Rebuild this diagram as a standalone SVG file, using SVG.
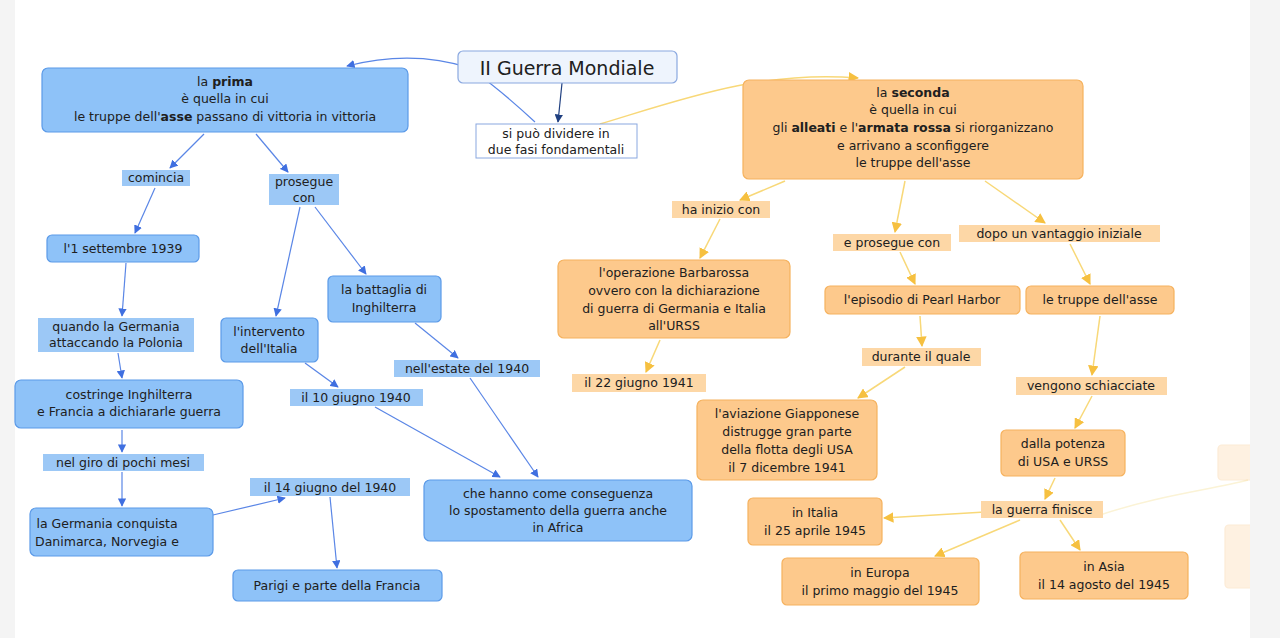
<svg xmlns="http://www.w3.org/2000/svg" width="1280" height="638" viewBox="0 0 1280 638">
<defs>
<marker id="ab" viewBox="0 0 10 10" refX="9" refY="5" markerWidth="7" markerHeight="7" orient="auto"><path d="M0,0 L10,5 L0,10 z" fill="#3f6fe0"/></marker>
<marker id="ad" viewBox="0 0 10 10" refX="9" refY="5" markerWidth="7" markerHeight="7" orient="auto"><path d="M0,0 L10,5 L0,10 z" fill="#1f3f80"/></marker>
<marker id="ao" viewBox="0 0 10 10" refX="9" refY="5" markerWidth="7" markerHeight="7" orient="auto"><path d="M0,0 L10,5 L0,10 z" fill="#f6c040"/></marker>
<style>
text{font-family:"DejaVu Sans","Liberation Sans",sans-serif;font-size:12.5px;fill:#202020;text-anchor:middle}
.bn{fill:#8ec2f8;stroke:#5b9ae8;stroke-width:1.2}
.bl{fill:#9cc8f6;stroke:none}
.on{fill:#fdc98c;stroke:#f6b25e;stroke-width:1.2}
.ol{fill:#fdd7a6;stroke:none}
.cb{fill:none;stroke:#5a86e6;stroke-width:1.2;marker-end:url(#ab)}
.co{fill:none;stroke:#f8d878;stroke-width:1.5;marker-end:url(#ao)}
</style>
</defs>
<rect width="1280" height="638" fill="#f4f4f4"/>
<rect x="15" y="0" width="1235" height="638" fill="#ffffff"/>
<g id="connectors">
<path class="cb" d="M470,68 C430,55 390,55 347,66"/>
<path d="M562,83 L558,122" fill="none" stroke="#1f3f80" stroke-width="1.2" marker-end="url(#ad)"/>
<path d="M475,72 C500,90 520,108 535,122" fill="none" stroke="#5a86e6" stroke-width="1.2"/>
<path class="co" d="M600,124 C680,100 760,70 858,78"/>
<path class="cb" d="M204,134 L170,168"/>
<path class="cb" d="M256,134 L288,172"/>
<path class="cb" d="M155,188 L135,233"/>
<path class="cb" d="M126,263 L122,316"/>
<path class="cb" d="M118,353 L122,378"/>
<path class="cb" d="M122,430 L122,452"/>
<path class="cb" d="M122,472 L122,506"/>
<path class="cb" d="M213,515 L285,498"/>
<path class="cb" d="M330,497 L337,568"/>
<path class="cb" d="M300,207 L276,316"/>
<path class="cb" d="M315,207 L366,274"/>
<path class="cb" d="M305,363 L338,387"/>
<path class="cb" d="M415,323 L458,358"/>
<path class="cb" d="M375,407 L500,477"/>
<path class="cb" d="M470,378 L538,477"/>
<path class="co" d="M785,181 L740,200"/>
<path class="co" d="M720,219 L700,258"/>
<path class="co" d="M905,181 L895,232"/>
<path class="co" d="M985,181 L1045,223"/>
<path class="co" d="M660,340 L646,372"/>
<path class="co" d="M900,252 L915,284"/>
<path class="co" d="M920,316 L922,346"/>
<path class="co" d="M905,367 L858,398"/>
<path class="co" d="M1070,244 L1090,284"/>
<path class="co" d="M1100,316 L1092,375"/>
<path class="co" d="M1092,396 L1075,428"/>
<path class="co" d="M1055,478 L1045,499"/>
<path class="co" d="M985,512 L884,518"/>
<path class="co" d="M1020,520 L935,556"/>
<path class="co" d="M1060,520 L1080,550"/>
<path d="M1100,515 C1160,495 1210,490 1248,480" fill="none" stroke="#fbf3d6" stroke-width="1.5"/>
</g>
<g id="n-title"><rect x="458" y="51" width="219" height="32" rx="5" fill="#eef4fd" stroke="#8aa8e0" stroke-width="1.2"/><text x="567" y="75" style="font-size:19px">II Guerra Mondiale</text></g>
<g id="n-divide"><rect x="476" y="124" width="161" height="34" fill="#ffffff" stroke="#8aa8e0"/><text x="556" y="138">si può dividere in</text><text x="556" y="154">due fasi fondamentali</text></g>
<g id="n-prima"><rect class="bn" x="42" y="68" width="366" height="64" rx="6"/><text x="225" y="86">la <tspan font-weight="bold">prima</tspan></text><text x="225" y="103">è quella in cui</text><text x="225" y="121">le truppe dell'<tspan font-weight="bold">asse</tspan> passano di vittoria in vittoria</text></g>
<g id="l-comincia"><rect class="bl" x="122" y="170" width="68" height="16"/><text x="156" y="182">comincia</text></g>
<g id="l-prosegue"><rect class="bl" x="269" y="174" width="70" height="31"/><text x="304" y="186">prosegue</text><text x="304" y="202">con</text></g>
<g id="n-1sett"><rect class="bn" x="47" y="235" width="152" height="27" rx="5"/><text x="123" y="253">l'1 settembre 1939</text></g>
<g id="l-quando"><rect class="bl" x="38" y="318" width="156" height="34"/><text x="116" y="331">quando la Germania</text><text x="116" y="347">attaccando la Polonia</text></g>
<g id="n-costringe"><rect class="bn" x="15" y="380" width="228" height="48" rx="6"/><text x="129" y="399">costringe Inghilterra</text><text x="129" y="416">e Francia a dichiararle guerra</text></g>
<g id="l-giro"><rect class="bl" x="43" y="454" width="161" height="17"/><text x="123" y="467">nel giro di pochi mesi</text></g>
<g id="n-conquista"><rect class="bn" x="30" y="508" width="183" height="48" rx="6"/><text x="107" y="528">la Germania conquista</text><text x="107" y="546">Danimarca, Norvegia e</text></g>
<g id="l-14giugno"><rect class="bl" x="250" y="478" width="160" height="18"/><text x="330" y="492">il 14 giugno del 1940</text></g>
<g id="n-parigi"><rect class="bn" x="233" y="570" width="209" height="31" rx="5" stroke="#3a5a9a"/><text x="337" y="590">Parigi e parte della Francia</text></g>
<g id="n-intervento"><rect class="bn" x="221" y="318" width="97" height="44" rx="5"/><text x="269" y="336">l'intervento</text><text x="269" y="353">dell'Italia</text></g>
<g id="n-battaglia"><rect class="bn" x="328" y="276" width="113" height="46" rx="5"/><text x="384" y="294">la battaglia di</text><text x="384" y="312">Inghilterra</text></g>
<g id="l-estate"><rect class="bl" x="394" y="360" width="146" height="17"/><text x="467" y="373">nell'estate del 1940</text></g>
<g id="l-10giugno"><rect class="bl" x="290" y="389" width="133" height="17"/><text x="356" y="402">il 10 giugno 1940</text></g>
<g id="n-conseguenza"><rect class="bn" x="424" y="480" width="268" height="61" rx="6"/><text x="558" y="498">che hanno come conseguenza</text><text x="558" y="515">lo spostamento della guerra anche</text><text x="558" y="532">in Africa</text></g>
<g id="n-seconda"><rect class="on" x="743" y="80" width="340" height="99" rx="6"/><text x="913" y="97">la <tspan font-weight="bold">seconda</tspan></text><text x="913" y="114">è quella in cui</text><text x="913" y="132">gli <tspan font-weight="bold">alleati</tspan> e l'<tspan font-weight="bold">armata rossa</tspan> si riorganizzano</text><text x="913" y="150">e arrivano a sconfiggere</text><text x="913" y="167">le truppe dell'asse</text></g>
<g id="l-inizio"><rect class="ol" x="672" y="201" width="98" height="17"/><text x="721" y="214">ha inizio con</text></g>
<g id="l-prosegue2"><rect class="ol" x="833" y="234" width="118" height="17"/><text x="892" y="247">e prosegue con</text></g>
<g id="l-vantaggio"><rect class="ol" x="959" y="225" width="201" height="17"/><text x="1059" y="238">dopo un vantaggio iniziale</text></g>
<g id="n-barbarossa"><rect class="on" x="558" y="260" width="232" height="78" rx="6"/><text x="674" y="277">l'operazione Barbarossa</text><text x="674" y="295">ovvero con la dichiarazione</text><text x="674" y="313">di guerra di Germania e Italia</text><text x="674" y="330">all'URSS</text></g>
<g id="l-22giugno"><rect class="ol" x="572" y="374" width="134" height="18"/><text x="639" y="387">il 22 giugno 1941</text></g>
<g id="n-pearl"><rect class="on" x="825" y="286" width="195" height="28" rx="5"/><text x="922" y="304">l'episodio di Pearl Harbor</text></g>
<g id="l-durante"><rect class="ol" x="862" y="348" width="119" height="18"/><text x="921" y="361">durante il quale</text></g>
<g id="n-aviazione"><rect class="on" x="697" y="400" width="180" height="80" rx="6"/><text x="787" y="418">l'aviazione Giapponese</text><text x="787" y="436">distrugge gran parte</text><text x="787" y="454">della flotta degli USA</text><text x="787" y="472">il 7 dicembre 1941</text></g>
<g id="n-truppe"><rect class="on" x="1026" y="286" width="148" height="28" rx="5"/><text x="1100" y="304">le truppe dell'asse</text></g>
<g id="l-schiacciate"><rect class="ol" x="1016" y="377" width="151" height="18"/><text x="1091" y="390">vengono schiacciate</text></g>
<g id="n-potenza"><rect class="on" x="1001" y="430" width="124" height="46" rx="5"/><text x="1063" y="448">dalla potenza</text><text x="1063" y="466">di USA e URSS</text></g>
<g id="l-finisce"><rect class="ol" x="981" y="501" width="122" height="17"/><text x="1042" y="514">la guerra finisce</text></g>
<g id="n-italia"><rect class="on" x="748" y="498" width="134" height="47" rx="5"/><text x="815" y="517">in Italia</text><text x="815" y="535">il 25 aprile 1945</text></g>
<g id="n-europa"><rect class="on" x="782" y="558" width="197" height="47" rx="5"/><text x="880" y="577">in Europa</text><text x="880" y="595">il primo maggio del 1945</text></g>
<g id="n-asia"><rect class="on" x="1020" y="552" width="168" height="47" rx="5"/><text x="1104" y="571">in Asia</text><text x="1104" y="589">il 14 agosto del 1945</text></g>
<g id="n-faded1" opacity="0.25"><rect class="on" x="1218" y="445" width="40" height="35" rx="4"/></g>
<g id="n-faded2" opacity="0.25"><rect class="on" x="1225" y="525" width="35" height="63" rx="4"/></g>
<rect x="1250" y="0" width="30" height="638" fill="#f4f4f4"/>
</svg>
